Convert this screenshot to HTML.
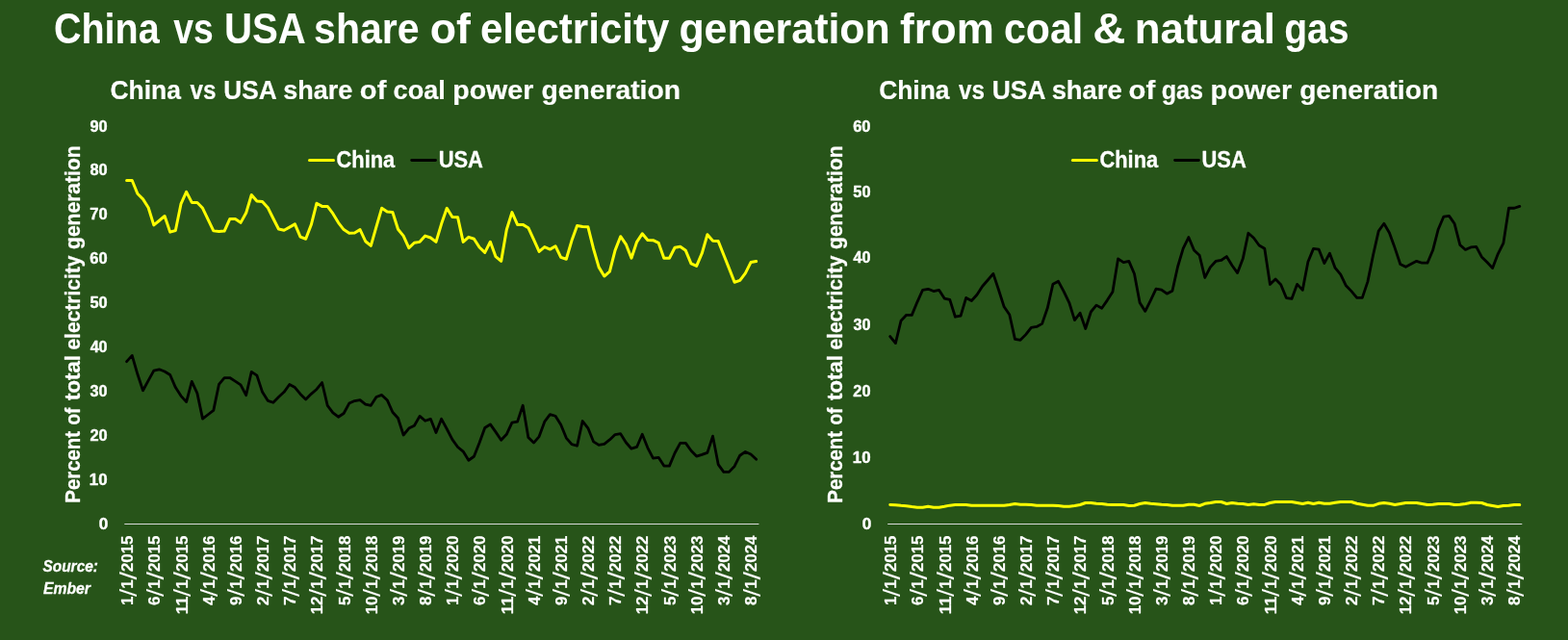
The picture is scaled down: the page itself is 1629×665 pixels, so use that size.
<!DOCTYPE html>
<html lang="en">
<head>
<meta charset="utf-8">
<title>China vs USA share of electricity generation from coal &amp; natural gas</title>
<style>
html,body{margin:0;padding:0;background:#275419;}
body{width:1629px;height:665px;overflow:hidden;}
svg{display:block;}
</style>
</head>
<body>
<svg width="1629" height="665" viewBox="0 0 1629 665" font-family='"Liberation Sans", sans-serif' font-weight="bold" fill="#fff">
<rect width="1629" height="665" fill="#275419"/>
<text y="45.40" font-size="44.0"><tspan x="55.92" textLength="109.78" lengthAdjust="spacingAndGlyphs">China</tspan> <tspan x="180.20" textLength="41.45" lengthAdjust="spacingAndGlyphs">vs</tspan> <tspan x="232.93" textLength="83.45" lengthAdjust="spacingAndGlyphs">USA</tspan> <tspan x="326.11" textLength="109.57" lengthAdjust="spacingAndGlyphs">share</tspan> <tspan x="446.74" textLength="42.17" lengthAdjust="spacingAndGlyphs">of</tspan> <tspan x="498.93" textLength="196.52" lengthAdjust="spacingAndGlyphs">electricity</tspan> <tspan x="705.38" textLength="219.43" lengthAdjust="spacingAndGlyphs">generation</tspan> <tspan x="935.04" textLength="97.76" lengthAdjust="spacingAndGlyphs">from</tspan> <tspan x="1042.96" textLength="82.23" lengthAdjust="spacingAndGlyphs">coal</tspan> <tspan x="1135.21" textLength="34.07" lengthAdjust="spacingAndGlyphs">&amp;</tspan> <tspan x="1178.85" textLength="146.12" lengthAdjust="spacingAndGlyphs">natural</tspan> <tspan x="1334.14" textLength="67.38" lengthAdjust="spacingAndGlyphs">gas</tspan></text>
<text y="102.65" font-size="27.7" stroke="#fff" stroke-width="0.2" stroke-linejoin="round"><tspan x="114.49" textLength="73.42" lengthAdjust="spacingAndGlyphs">China</tspan> <tspan x="197.40" textLength="27.03" lengthAdjust="spacingAndGlyphs">vs</tspan> <tspan x="232.25" textLength="54.52" lengthAdjust="spacingAndGlyphs">USA</tspan> <tspan x="294.25" textLength="72.09" lengthAdjust="spacingAndGlyphs">share</tspan> <tspan x="373.88" textLength="27.46" lengthAdjust="spacingAndGlyphs">of</tspan> <tspan x="408.55" textLength="54.29" lengthAdjust="spacingAndGlyphs">coal</tspan> <tspan x="470.24" textLength="84.06" lengthAdjust="spacingAndGlyphs">power</tspan> <tspan x="562.47" textLength="144.45" lengthAdjust="spacingAndGlyphs">generation</tspan></text>
<text y="102.65" font-size="27.7" stroke="#fff" stroke-width="0.2" stroke-linejoin="round"><tspan x="913.14" textLength="73.42" lengthAdjust="spacingAndGlyphs">China</tspan> <tspan x="996.10" textLength="26.98" lengthAdjust="spacingAndGlyphs">vs</tspan> <tspan x="1030.85" textLength="54.63" lengthAdjust="spacingAndGlyphs">USA</tspan> <tspan x="1092.64" textLength="73.11" lengthAdjust="spacingAndGlyphs">share</tspan> <tspan x="1172.58" textLength="27.56" lengthAdjust="spacingAndGlyphs">of</tspan> <tspan x="1206.69" textLength="43.42" lengthAdjust="spacingAndGlyphs">gas</tspan> <tspan x="1257.63" textLength="84.68" lengthAdjust="spacingAndGlyphs">power</tspan> <tspan x="1350.17" textLength="143.94" lengthAdjust="spacingAndGlyphs">generation</tspan></text>
<g id="chart1">
<rect x="129.30" y="544.00" width="659.10" height="1" fill="#d9d9d9"/>
<polyline points="131.60,187.52 137.24,187.52 142.88,201.30 148.52,206.93 154.15,215.70 159.79,233.86 165.43,229.23 171.07,224.47 176.71,241.12 182.35,239.50 187.98,211.94 193.62,199.42 199.26,210.44 204.90,210.44 210.54,216.33 216.18,228.22 221.81,239.87 227.45,240.50 233.09,240.12 238.73,227.60 244.37,227.60 250.01,231.36 255.64,221.34 261.28,202.55 266.92,209.06 272.56,209.44 278.20,215.70 283.84,226.97 289.47,237.99 295.11,239.25 300.75,236.11 306.39,232.86 312.03,246.18 317.67,248.25 323.30,233.53 328.94,211.30 334.58,214.42 340.22,214.42 345.86,221.93 351.50,231.33 357.13,238.59 362.77,242.35 368.41,241.97 374.05,238.59 379.69,250.74 385.33,255.37 390.96,235.71 396.60,216.30 402.24,220.06 407.88,220.43 413.52,238.22 419.16,245.10 424.79,257.63 430.43,252.24 436.07,251.37 441.71,245.10 447.35,246.98 452.99,251.37 458.62,232.58 464.26,216.30 469.90,225.44 475.54,225.69 481.18,251.37 486.82,246.36 492.46,248.23 498.09,256.98 503.73,262.37 509.37,251.22 515.01,266.69 520.65,271.37 526.29,238.80 531.92,220.64 537.56,233.42 543.20,233.42 548.84,236.68 554.48,248.82 560.12,261.35 565.75,256.59 571.39,259.09 577.03,255.71 582.67,267.36 588.31,269.24 593.95,250.08 599.58,234.42 605.22,235.42 610.86,235.67 616.50,258.22 622.14,277.63 627.78,287.02 633.41,282.01 639.05,260.09 644.69,245.68 650.33,253.82 655.97,268.22 661.61,251.32 667.24,242.80 672.88,249.44 678.52,249.69 684.16,252.32 689.80,268.22 695.44,268.22 701.07,257.27 706.71,256.32 712.35,260.33 717.99,273.85 723.63,276.36 729.27,263.21 734.90,243.79 740.54,250.31 746.18,250.56 751.82,264.71 757.46,278.86 763.10,293.26 768.73,291.38 774.37,283.87 780.01,272.60 785.65,271.60" fill="none" stroke="#ffff00" stroke-width="3.0" stroke-linejoin="round" stroke-linecap="round"/>
<polyline points="131.60,375.65 137.24,369.39 142.88,388.80 148.52,405.71 154.15,395.44 159.79,385.05 165.43,383.79 171.07,386.05 176.71,389.43 182.35,402.58 187.98,411.35 193.62,417.61 199.26,396.32 204.90,408.59 210.54,435.14 216.18,430.76 221.81,426.37 227.45,399.45 233.09,392.56 238.73,392.56 244.37,396.07 250.01,399.82 255.64,410.72 261.28,386.30 266.92,390.06 272.56,407.34 278.20,416.36 283.84,418.23 289.47,412.60 295.11,407.34 300.75,399.45 306.39,402.58 312.03,409.45 317.67,415.08 323.30,409.32 328.94,404.44 334.58,397.53 340.22,421.33 345.86,428.84 351.50,433.22 357.13,429.47 362.77,419.07 368.41,416.57 374.05,415.69 379.69,420.08 385.33,421.33 390.96,412.56 396.60,410.43 402.24,415.69 407.88,428.22 413.52,434.48 419.16,452.01 424.79,445.12 430.43,442.24 436.07,432.35 441.71,437.23 447.35,435.35 452.99,449.47 458.62,435.32 464.26,445.72 469.90,456.67 475.54,464.47 481.18,469.10 486.82,478.24 492.46,474.24 498.09,460.08 503.73,444.46 509.37,440.89 515.01,448.85 520.65,457.33 526.29,451.32 531.92,439.17 537.56,438.17 543.20,421.26 548.84,454.45 554.48,460.08 560.12,453.57 565.75,438.17 571.39,430.65 577.03,432.28 582.67,441.30 588.31,455.08 593.95,461.59 599.58,463.22 605.22,437.54 610.86,444.81 616.50,458.83 622.14,462.33 627.78,461.33 633.41,456.94 639.05,451.56 644.69,450.68 650.33,459.76 655.97,466.21 661.61,464.45 667.24,451.30 672.88,465.33 678.52,476.10 684.16,475.34 689.80,484.11 695.44,484.11 701.07,470.71 706.71,460.32 712.35,460.32 717.99,468.21 723.63,474.09 729.27,472.34 734.90,470.34 740.54,453.18 746.18,482.61 751.82,490.37 757.46,490.37 763.10,484.49 768.73,473.22 774.37,469.46 780.01,471.96 785.65,477.35" fill="none" stroke="#000" stroke-width="2.8" stroke-linejoin="round" stroke-linecap="round"/>
<line x1="321.50" y1="166.5" x2="346.50" y2="166.5" stroke="#ffff00" stroke-width="3.0" stroke-linecap="round"/>
<line x1="427.70" y1="166.5" x2="452.50" y2="166.5" stroke="#000" stroke-width="2.8" stroke-linecap="round"/>
<text y="173.85" font-size="23.2" stroke="#fff" stroke-width="0.3" stroke-linejoin="round"><tspan x="349.58" textLength="60.68" lengthAdjust="spacingAndGlyphs">China</tspan></text>
<text y="173.85" font-size="23.2" stroke="#fff" stroke-width="0.3" stroke-linejoin="round"><tspan x="455.63" textLength="46.30" lengthAdjust="spacingAndGlyphs">USA</tspan></text>
<text transform="rotate(-90)" y="82.55" font-size="21.2" stroke="#fff" stroke-width="0.3" stroke-linejoin="round"><tspan x="-522.67" textLength="74.69" lengthAdjust="spacingAndGlyphs">Percent</tspan> <tspan x="-441.51" textLength="17.93" lengthAdjust="spacingAndGlyphs">of</tspan> <tspan x="-415.97" textLength="46.93" lengthAdjust="spacingAndGlyphs">total</tspan> <tspan x="-363.59" textLength="98.06" lengthAdjust="spacingAndGlyphs">electricity</tspan> <tspan x="-258.99" textLength="107.62" lengthAdjust="spacingAndGlyphs">generation</tspan></text>
<text y="549.70" font-size="15.7" stroke="#fff" stroke-width="0.4" stroke-linejoin="round"><tspan x="102.75" textLength="9.57" lengthAdjust="spacingAndGlyphs">0</tspan></text>
<text y="503.82" font-size="15.7" stroke="#fff" stroke-width="0.4" stroke-linejoin="round"><tspan x="92.89" textLength="18.72" lengthAdjust="spacingAndGlyphs">10</tspan></text>
<text y="457.94" font-size="15.7" stroke="#fff" stroke-width="0.4" stroke-linejoin="round"><tspan x="93.41" textLength="18.18" lengthAdjust="spacingAndGlyphs">20</tspan></text>
<text y="412.06" font-size="15.7" stroke="#fff" stroke-width="0.4" stroke-linejoin="round"><tspan x="93.58" textLength="18.01" lengthAdjust="spacingAndGlyphs">30</tspan></text>
<text y="366.18" font-size="15.7" stroke="#fff" stroke-width="0.4" stroke-linejoin="round"><tspan x="93.66" textLength="17.92" lengthAdjust="spacingAndGlyphs">40</tspan></text>
<text y="320.30" font-size="15.7" stroke="#fff" stroke-width="0.4" stroke-linejoin="round"><tspan x="93.41" textLength="18.18" lengthAdjust="spacingAndGlyphs">50</tspan></text>
<text y="274.42" font-size="15.7" stroke="#fff" stroke-width="0.4" stroke-linejoin="round"><tspan x="93.33" textLength="18.27" lengthAdjust="spacingAndGlyphs">60</tspan></text>
<text y="227.74" font-size="15.7" stroke="#fff" stroke-width="0.4" stroke-linejoin="round"><tspan x="93.24" textLength="18.36" lengthAdjust="spacingAndGlyphs">70</tspan></text>
<text y="181.86" font-size="15.7" stroke="#fff" stroke-width="0.4" stroke-linejoin="round"><tspan x="93.41" textLength="18.18" lengthAdjust="spacingAndGlyphs">80</tspan></text>
<text y="136.78" font-size="15.7" stroke="#fff" stroke-width="0.4" stroke-linejoin="round"><tspan x="93.41" textLength="18.18" lengthAdjust="spacingAndGlyphs">90</tspan></text>
<text transform="rotate(-90)" y="138.32" font-size="17.2" stroke="#fff" stroke-width="0.2" stroke-linejoin="round"><tspan x="-628.90" dy="0" textLength="9.40" lengthAdjust="spacingAndGlyphs">1</tspan><tspan x="-620.10" dy="3.5" font-size="24.4" font-weight="normal" stroke="#275419" stroke-width="0.1" textLength="8.33" lengthAdjust="spacingAndGlyphs">/</tspan><tspan x="-611.75" dy="-3.5" textLength="9.40" lengthAdjust="spacingAndGlyphs">1</tspan><tspan x="-602.40" dy="3.5" font-size="24.4" font-weight="normal" stroke="#275419" stroke-width="0.1" textLength="8.63" lengthAdjust="spacingAndGlyphs">/</tspan><tspan x="-594.10" dy="-3.5" textLength="37.60" lengthAdjust="spacingAndGlyphs">2015</tspan></text>
<text transform="rotate(-90)" y="166.48" font-size="17.2" stroke="#fff" stroke-width="0.2" stroke-linejoin="round"><tspan x="-628.90" dy="0" textLength="9.40" lengthAdjust="spacingAndGlyphs">6</tspan><tspan x="-620.10" dy="3.5" font-size="24.4" font-weight="normal" stroke="#275419" stroke-width="0.1" textLength="8.33" lengthAdjust="spacingAndGlyphs">/</tspan><tspan x="-611.75" dy="-3.5" textLength="9.40" lengthAdjust="spacingAndGlyphs">1</tspan><tspan x="-602.40" dy="3.5" font-size="24.4" font-weight="normal" stroke="#275419" stroke-width="0.1" textLength="8.63" lengthAdjust="spacingAndGlyphs">/</tspan><tspan x="-594.10" dy="-3.5" textLength="37.60" lengthAdjust="spacingAndGlyphs">2015</tspan></text>
<text transform="rotate(-90)" y="194.65" font-size="17.2" stroke="#fff" stroke-width="0.2" stroke-linejoin="round"><tspan x="-638.30" dy="0" textLength="18.80" lengthAdjust="spacingAndGlyphs">11</tspan><tspan x="-620.10" dy="3.5" font-size="24.4" font-weight="normal" stroke="#275419" stroke-width="0.1" textLength="8.33" lengthAdjust="spacingAndGlyphs">/</tspan><tspan x="-611.75" dy="-3.5" textLength="9.40" lengthAdjust="spacingAndGlyphs">1</tspan><tspan x="-602.40" dy="3.5" font-size="24.4" font-weight="normal" stroke="#275419" stroke-width="0.1" textLength="8.63" lengthAdjust="spacingAndGlyphs">/</tspan><tspan x="-594.10" dy="-3.5" textLength="37.60" lengthAdjust="spacingAndGlyphs">2015</tspan></text>
<text transform="rotate(-90)" y="222.82" font-size="17.2" stroke="#fff" stroke-width="0.2" stroke-linejoin="round"><tspan x="-628.90" dy="0" textLength="9.40" lengthAdjust="spacingAndGlyphs">4</tspan><tspan x="-620.10" dy="3.5" font-size="24.4" font-weight="normal" stroke="#275419" stroke-width="0.1" textLength="8.33" lengthAdjust="spacingAndGlyphs">/</tspan><tspan x="-611.75" dy="-3.5" textLength="9.40" lengthAdjust="spacingAndGlyphs">1</tspan><tspan x="-602.40" dy="3.5" font-size="24.4" font-weight="normal" stroke="#275419" stroke-width="0.1" textLength="8.63" lengthAdjust="spacingAndGlyphs">/</tspan><tspan x="-594.10" dy="-3.5" textLength="37.60" lengthAdjust="spacingAndGlyphs">2016</tspan></text>
<text transform="rotate(-90)" y="250.98" font-size="17.2" stroke="#fff" stroke-width="0.2" stroke-linejoin="round"><tspan x="-628.90" dy="0" textLength="9.40" lengthAdjust="spacingAndGlyphs">9</tspan><tspan x="-620.10" dy="3.5" font-size="24.4" font-weight="normal" stroke="#275419" stroke-width="0.1" textLength="8.33" lengthAdjust="spacingAndGlyphs">/</tspan><tspan x="-611.75" dy="-3.5" textLength="9.40" lengthAdjust="spacingAndGlyphs">1</tspan><tspan x="-602.40" dy="3.5" font-size="24.4" font-weight="normal" stroke="#275419" stroke-width="0.1" textLength="8.63" lengthAdjust="spacingAndGlyphs">/</tspan><tspan x="-594.10" dy="-3.5" textLength="37.60" lengthAdjust="spacingAndGlyphs">2016</tspan></text>
<text transform="rotate(-90)" y="279.15" font-size="17.2" stroke="#fff" stroke-width="0.2" stroke-linejoin="round"><tspan x="-628.90" dy="0" textLength="9.40" lengthAdjust="spacingAndGlyphs">2</tspan><tspan x="-620.10" dy="3.5" font-size="24.4" font-weight="normal" stroke="#275419" stroke-width="0.1" textLength="8.33" lengthAdjust="spacingAndGlyphs">/</tspan><tspan x="-611.75" dy="-3.5" textLength="9.40" lengthAdjust="spacingAndGlyphs">1</tspan><tspan x="-602.40" dy="3.5" font-size="24.4" font-weight="normal" stroke="#275419" stroke-width="0.1" textLength="8.63" lengthAdjust="spacingAndGlyphs">/</tspan><tspan x="-594.10" dy="-3.5" textLength="37.60" lengthAdjust="spacingAndGlyphs">2017</tspan></text>
<text transform="rotate(-90)" y="307.32" font-size="17.2" stroke="#fff" stroke-width="0.2" stroke-linejoin="round"><tspan x="-628.90" dy="0" textLength="9.40" lengthAdjust="spacingAndGlyphs">7</tspan><tspan x="-620.10" dy="3.5" font-size="24.4" font-weight="normal" stroke="#275419" stroke-width="0.1" textLength="8.33" lengthAdjust="spacingAndGlyphs">/</tspan><tspan x="-611.75" dy="-3.5" textLength="9.40" lengthAdjust="spacingAndGlyphs">1</tspan><tspan x="-602.40" dy="3.5" font-size="24.4" font-weight="normal" stroke="#275419" stroke-width="0.1" textLength="8.63" lengthAdjust="spacingAndGlyphs">/</tspan><tspan x="-594.10" dy="-3.5" textLength="37.60" lengthAdjust="spacingAndGlyphs">2017</tspan></text>
<text transform="rotate(-90)" y="335.48" font-size="17.2" stroke="#fff" stroke-width="0.2" stroke-linejoin="round"><tspan x="-638.30" dy="0" textLength="18.80" lengthAdjust="spacingAndGlyphs">12</tspan><tspan x="-620.10" dy="3.5" font-size="24.4" font-weight="normal" stroke="#275419" stroke-width="0.1" textLength="8.33" lengthAdjust="spacingAndGlyphs">/</tspan><tspan x="-611.75" dy="-3.5" textLength="9.40" lengthAdjust="spacingAndGlyphs">1</tspan><tspan x="-602.40" dy="3.5" font-size="24.4" font-weight="normal" stroke="#275419" stroke-width="0.1" textLength="8.63" lengthAdjust="spacingAndGlyphs">/</tspan><tspan x="-594.10" dy="-3.5" textLength="37.60" lengthAdjust="spacingAndGlyphs">2017</tspan></text>
<text transform="rotate(-90)" y="363.65" font-size="17.2" stroke="#fff" stroke-width="0.2" stroke-linejoin="round"><tspan x="-628.90" dy="0" textLength="9.40" lengthAdjust="spacingAndGlyphs">5</tspan><tspan x="-620.10" dy="3.5" font-size="24.4" font-weight="normal" stroke="#275419" stroke-width="0.1" textLength="8.33" lengthAdjust="spacingAndGlyphs">/</tspan><tspan x="-611.75" dy="-3.5" textLength="9.40" lengthAdjust="spacingAndGlyphs">1</tspan><tspan x="-602.40" dy="3.5" font-size="24.4" font-weight="normal" stroke="#275419" stroke-width="0.1" textLength="8.63" lengthAdjust="spacingAndGlyphs">/</tspan><tspan x="-594.10" dy="-3.5" textLength="37.60" lengthAdjust="spacingAndGlyphs">2018</tspan></text>
<text transform="rotate(-90)" y="391.82" font-size="17.2" stroke="#fff" stroke-width="0.2" stroke-linejoin="round"><tspan x="-638.30" dy="0" textLength="18.80" lengthAdjust="spacingAndGlyphs">10</tspan><tspan x="-620.10" dy="3.5" font-size="24.4" font-weight="normal" stroke="#275419" stroke-width="0.1" textLength="8.33" lengthAdjust="spacingAndGlyphs">/</tspan><tspan x="-611.75" dy="-3.5" textLength="9.40" lengthAdjust="spacingAndGlyphs">1</tspan><tspan x="-602.40" dy="3.5" font-size="24.4" font-weight="normal" stroke="#275419" stroke-width="0.1" textLength="8.63" lengthAdjust="spacingAndGlyphs">/</tspan><tspan x="-594.10" dy="-3.5" textLength="37.60" lengthAdjust="spacingAndGlyphs">2018</tspan></text>
<text transform="rotate(-90)" y="419.98" font-size="17.2" stroke="#fff" stroke-width="0.2" stroke-linejoin="round"><tspan x="-628.90" dy="0" textLength="9.40" lengthAdjust="spacingAndGlyphs">3</tspan><tspan x="-620.10" dy="3.5" font-size="24.4" font-weight="normal" stroke="#275419" stroke-width="0.1" textLength="8.33" lengthAdjust="spacingAndGlyphs">/</tspan><tspan x="-611.75" dy="-3.5" textLength="9.40" lengthAdjust="spacingAndGlyphs">1</tspan><tspan x="-602.40" dy="3.5" font-size="24.4" font-weight="normal" stroke="#275419" stroke-width="0.1" textLength="8.63" lengthAdjust="spacingAndGlyphs">/</tspan><tspan x="-594.10" dy="-3.5" textLength="37.60" lengthAdjust="spacingAndGlyphs">2019</tspan></text>
<text transform="rotate(-90)" y="448.15" font-size="17.2" stroke="#fff" stroke-width="0.2" stroke-linejoin="round"><tspan x="-628.90" dy="0" textLength="9.40" lengthAdjust="spacingAndGlyphs">8</tspan><tspan x="-620.10" dy="3.5" font-size="24.4" font-weight="normal" stroke="#275419" stroke-width="0.1" textLength="8.33" lengthAdjust="spacingAndGlyphs">/</tspan><tspan x="-611.75" dy="-3.5" textLength="9.40" lengthAdjust="spacingAndGlyphs">1</tspan><tspan x="-602.40" dy="3.5" font-size="24.4" font-weight="normal" stroke="#275419" stroke-width="0.1" textLength="8.63" lengthAdjust="spacingAndGlyphs">/</tspan><tspan x="-594.10" dy="-3.5" textLength="37.60" lengthAdjust="spacingAndGlyphs">2019</tspan></text>
<text transform="rotate(-90)" y="476.32" font-size="17.2" stroke="#fff" stroke-width="0.2" stroke-linejoin="round"><tspan x="-628.90" dy="0" textLength="9.40" lengthAdjust="spacingAndGlyphs">1</tspan><tspan x="-620.10" dy="3.5" font-size="24.4" font-weight="normal" stroke="#275419" stroke-width="0.1" textLength="8.33" lengthAdjust="spacingAndGlyphs">/</tspan><tspan x="-611.75" dy="-3.5" textLength="9.40" lengthAdjust="spacingAndGlyphs">1</tspan><tspan x="-602.40" dy="3.5" font-size="24.4" font-weight="normal" stroke="#275419" stroke-width="0.1" textLength="8.63" lengthAdjust="spacingAndGlyphs">/</tspan><tspan x="-594.10" dy="-3.5" textLength="37.60" lengthAdjust="spacingAndGlyphs">2020</tspan></text>
<text transform="rotate(-90)" y="504.48" font-size="17.2" stroke="#fff" stroke-width="0.2" stroke-linejoin="round"><tspan x="-628.90" dy="0" textLength="9.40" lengthAdjust="spacingAndGlyphs">6</tspan><tspan x="-620.10" dy="3.5" font-size="24.4" font-weight="normal" stroke="#275419" stroke-width="0.1" textLength="8.33" lengthAdjust="spacingAndGlyphs">/</tspan><tspan x="-611.75" dy="-3.5" textLength="9.40" lengthAdjust="spacingAndGlyphs">1</tspan><tspan x="-602.40" dy="3.5" font-size="24.4" font-weight="normal" stroke="#275419" stroke-width="0.1" textLength="8.63" lengthAdjust="spacingAndGlyphs">/</tspan><tspan x="-594.10" dy="-3.5" textLength="37.60" lengthAdjust="spacingAndGlyphs">2020</tspan></text>
<text transform="rotate(-90)" y="532.65" font-size="17.2" stroke="#fff" stroke-width="0.2" stroke-linejoin="round"><tspan x="-638.30" dy="0" textLength="18.80" lengthAdjust="spacingAndGlyphs">11</tspan><tspan x="-620.10" dy="3.5" font-size="24.4" font-weight="normal" stroke="#275419" stroke-width="0.1" textLength="8.33" lengthAdjust="spacingAndGlyphs">/</tspan><tspan x="-611.75" dy="-3.5" textLength="9.40" lengthAdjust="spacingAndGlyphs">1</tspan><tspan x="-602.40" dy="3.5" font-size="24.4" font-weight="normal" stroke="#275419" stroke-width="0.1" textLength="8.63" lengthAdjust="spacingAndGlyphs">/</tspan><tspan x="-594.10" dy="-3.5" textLength="37.60" lengthAdjust="spacingAndGlyphs">2020</tspan></text>
<text transform="rotate(-90)" y="560.82" font-size="17.2" stroke="#fff" stroke-width="0.2" stroke-linejoin="round"><tspan x="-628.90" dy="0" textLength="9.40" lengthAdjust="spacingAndGlyphs">4</tspan><tspan x="-620.10" dy="3.5" font-size="24.4" font-weight="normal" stroke="#275419" stroke-width="0.1" textLength="8.33" lengthAdjust="spacingAndGlyphs">/</tspan><tspan x="-611.75" dy="-3.5" textLength="9.40" lengthAdjust="spacingAndGlyphs">1</tspan><tspan x="-602.40" dy="3.5" font-size="24.4" font-weight="normal" stroke="#275419" stroke-width="0.1" textLength="8.63" lengthAdjust="spacingAndGlyphs">/</tspan><tspan x="-594.10" dy="-3.5" textLength="37.60" lengthAdjust="spacingAndGlyphs">2021</tspan></text>
<text transform="rotate(-90)" y="588.98" font-size="17.2" stroke="#fff" stroke-width="0.2" stroke-linejoin="round"><tspan x="-628.90" dy="0" textLength="9.40" lengthAdjust="spacingAndGlyphs">9</tspan><tspan x="-620.10" dy="3.5" font-size="24.4" font-weight="normal" stroke="#275419" stroke-width="0.1" textLength="8.33" lengthAdjust="spacingAndGlyphs">/</tspan><tspan x="-611.75" dy="-3.5" textLength="9.40" lengthAdjust="spacingAndGlyphs">1</tspan><tspan x="-602.40" dy="3.5" font-size="24.4" font-weight="normal" stroke="#275419" stroke-width="0.1" textLength="8.63" lengthAdjust="spacingAndGlyphs">/</tspan><tspan x="-594.10" dy="-3.5" textLength="37.60" lengthAdjust="spacingAndGlyphs">2021</tspan></text>
<text transform="rotate(-90)" y="617.15" font-size="17.2" stroke="#fff" stroke-width="0.2" stroke-linejoin="round"><tspan x="-628.90" dy="0" textLength="9.40" lengthAdjust="spacingAndGlyphs">2</tspan><tspan x="-620.10" dy="3.5" font-size="24.4" font-weight="normal" stroke="#275419" stroke-width="0.1" textLength="8.33" lengthAdjust="spacingAndGlyphs">/</tspan><tspan x="-611.75" dy="-3.5" textLength="9.40" lengthAdjust="spacingAndGlyphs">1</tspan><tspan x="-602.40" dy="3.5" font-size="24.4" font-weight="normal" stroke="#275419" stroke-width="0.1" textLength="8.63" lengthAdjust="spacingAndGlyphs">/</tspan><tspan x="-594.10" dy="-3.5" textLength="37.60" lengthAdjust="spacingAndGlyphs">2022</tspan></text>
<text transform="rotate(-90)" y="645.32" font-size="17.2" stroke="#fff" stroke-width="0.2" stroke-linejoin="round"><tspan x="-628.90" dy="0" textLength="9.40" lengthAdjust="spacingAndGlyphs">7</tspan><tspan x="-620.10" dy="3.5" font-size="24.4" font-weight="normal" stroke="#275419" stroke-width="0.1" textLength="8.33" lengthAdjust="spacingAndGlyphs">/</tspan><tspan x="-611.75" dy="-3.5" textLength="9.40" lengthAdjust="spacingAndGlyphs">1</tspan><tspan x="-602.40" dy="3.5" font-size="24.4" font-weight="normal" stroke="#275419" stroke-width="0.1" textLength="8.63" lengthAdjust="spacingAndGlyphs">/</tspan><tspan x="-594.10" dy="-3.5" textLength="37.60" lengthAdjust="spacingAndGlyphs">2022</tspan></text>
<text transform="rotate(-90)" y="673.48" font-size="17.2" stroke="#fff" stroke-width="0.2" stroke-linejoin="round"><tspan x="-638.30" dy="0" textLength="18.80" lengthAdjust="spacingAndGlyphs">12</tspan><tspan x="-620.10" dy="3.5" font-size="24.4" font-weight="normal" stroke="#275419" stroke-width="0.1" textLength="8.33" lengthAdjust="spacingAndGlyphs">/</tspan><tspan x="-611.75" dy="-3.5" textLength="9.40" lengthAdjust="spacingAndGlyphs">1</tspan><tspan x="-602.40" dy="3.5" font-size="24.4" font-weight="normal" stroke="#275419" stroke-width="0.1" textLength="8.63" lengthAdjust="spacingAndGlyphs">/</tspan><tspan x="-594.10" dy="-3.5" textLength="37.60" lengthAdjust="spacingAndGlyphs">2022</tspan></text>
<text transform="rotate(-90)" y="701.65" font-size="17.2" stroke="#fff" stroke-width="0.2" stroke-linejoin="round"><tspan x="-628.90" dy="0" textLength="9.40" lengthAdjust="spacingAndGlyphs">5</tspan><tspan x="-620.10" dy="3.5" font-size="24.4" font-weight="normal" stroke="#275419" stroke-width="0.1" textLength="8.33" lengthAdjust="spacingAndGlyphs">/</tspan><tspan x="-611.75" dy="-3.5" textLength="9.40" lengthAdjust="spacingAndGlyphs">1</tspan><tspan x="-602.40" dy="3.5" font-size="24.4" font-weight="normal" stroke="#275419" stroke-width="0.1" textLength="8.63" lengthAdjust="spacingAndGlyphs">/</tspan><tspan x="-594.10" dy="-3.5" textLength="37.60" lengthAdjust="spacingAndGlyphs">2023</tspan></text>
<text transform="rotate(-90)" y="729.82" font-size="17.2" stroke="#fff" stroke-width="0.2" stroke-linejoin="round"><tspan x="-638.30" dy="0" textLength="18.80" lengthAdjust="spacingAndGlyphs">10</tspan><tspan x="-620.10" dy="3.5" font-size="24.4" font-weight="normal" stroke="#275419" stroke-width="0.1" textLength="8.33" lengthAdjust="spacingAndGlyphs">/</tspan><tspan x="-611.75" dy="-3.5" textLength="9.40" lengthAdjust="spacingAndGlyphs">1</tspan><tspan x="-602.40" dy="3.5" font-size="24.4" font-weight="normal" stroke="#275419" stroke-width="0.1" textLength="8.63" lengthAdjust="spacingAndGlyphs">/</tspan><tspan x="-594.10" dy="-3.5" textLength="37.60" lengthAdjust="spacingAndGlyphs">2023</tspan></text>
<text transform="rotate(-90)" y="757.98" font-size="17.2" stroke="#fff" stroke-width="0.2" stroke-linejoin="round"><tspan x="-628.90" dy="0" textLength="9.40" lengthAdjust="spacingAndGlyphs">3</tspan><tspan x="-620.10" dy="3.5" font-size="24.4" font-weight="normal" stroke="#275419" stroke-width="0.1" textLength="8.33" lengthAdjust="spacingAndGlyphs">/</tspan><tspan x="-611.75" dy="-3.5" textLength="9.40" lengthAdjust="spacingAndGlyphs">1</tspan><tspan x="-602.40" dy="3.5" font-size="24.4" font-weight="normal" stroke="#275419" stroke-width="0.1" textLength="8.63" lengthAdjust="spacingAndGlyphs">/</tspan><tspan x="-594.10" dy="-3.5" textLength="37.60" lengthAdjust="spacingAndGlyphs">2024</tspan></text>
<text transform="rotate(-90)" y="786.15" font-size="17.2" stroke="#fff" stroke-width="0.2" stroke-linejoin="round"><tspan x="-628.90" dy="0" textLength="9.40" lengthAdjust="spacingAndGlyphs">8</tspan><tspan x="-620.10" dy="3.5" font-size="24.4" font-weight="normal" stroke="#275419" stroke-width="0.1" textLength="8.33" lengthAdjust="spacingAndGlyphs">/</tspan><tspan x="-611.75" dy="-3.5" textLength="9.40" lengthAdjust="spacingAndGlyphs">1</tspan><tspan x="-602.40" dy="3.5" font-size="24.4" font-weight="normal" stroke="#275419" stroke-width="0.1" textLength="8.63" lengthAdjust="spacingAndGlyphs">/</tspan><tspan x="-594.10" dy="-3.5" textLength="37.60" lengthAdjust="spacingAndGlyphs">2024</tspan></text>
</g>
<g id="chart2">
<rect x="922.20" y="544.00" width="659.10" height="1" fill="#d9d9d9"/>
<polyline points="924.75,524.55 930.39,524.70 936.03,525.30 941.67,525.68 947.30,526.58 952.94,527.33 958.58,527.18 964.22,526.28 969.86,527.33 975.50,527.18 981.13,526.28 986.77,525.15 992.41,524.55 998.05,524.55 1003.69,524.42 1009.33,525.33 1014.96,525.33 1020.60,525.20 1026.24,525.20 1031.88,525.20 1037.52,525.20 1043.16,525.20 1048.79,524.50 1054.43,523.50 1060.07,524.20 1065.71,524.30 1071.35,524.50 1076.99,525.20 1082.62,525.20 1088.26,525.20 1093.90,525.20 1099.54,525.50 1105.18,526.20 1110.82,526.20 1116.45,525.50 1122.09,524.50 1127.73,522.50 1133.37,522.50 1139.01,523.20 1144.65,523.50 1150.28,524.30 1155.92,524.40 1161.56,524.40 1167.20,524.50 1172.84,525.50 1178.48,525.30 1184.11,523.50 1189.75,522.50 1195.39,523.30 1201.03,523.70 1206.67,524.30 1212.31,524.50 1217.94,525.30 1223.58,525.30 1229.22,525.30 1234.86,524.30 1240.50,524.30 1246.14,525.50 1251.78,523.30 1257.41,522.50 1263.05,521.50 1268.69,521.50 1274.33,523.50 1279.97,522.50 1285.61,523.30 1291.24,523.50 1296.88,524.50 1302.52,523.70 1308.16,524.40 1313.80,524.40 1319.44,522.50 1325.07,521.50 1330.71,521.50 1336.35,521.50 1341.99,521.50 1347.63,522.50 1353.27,523.50 1358.90,522.30 1364.54,523.50 1370.18,522.30 1375.82,523.30 1381.46,523.30 1387.10,522.30 1392.73,521.50 1398.37,521.50 1404.01,521.50 1409.65,523.30 1415.29,524.30 1420.93,525.30 1426.56,525.30 1432.20,523.30 1437.84,522.50 1443.48,523.30 1449.12,524.50 1454.76,523.50 1460.39,522.50 1466.03,522.40 1471.67,522.50 1477.31,523.50 1482.95,524.50 1488.59,524.30 1494.22,523.50 1499.86,523.50 1505.50,523.50 1511.14,524.50 1516.78,524.30 1522.42,523.50 1528.05,522.30 1533.69,522.30 1539.33,522.50 1544.97,524.50 1550.61,525.50 1556.25,526.50 1561.88,525.50 1567.52,525.30 1573.16,524.50 1578.80,524.50" fill="none" stroke="#ffff00" stroke-width="3.0" stroke-linejoin="round" stroke-linecap="round"/>
<polyline points="924.75,349.51 930.39,356.64 936.03,333.22 941.67,327.34 947.30,327.34 952.94,313.81 958.58,301.29 964.22,300.29 969.86,302.54 975.50,301.29 981.13,310.06 986.77,311.31 992.41,329.22 998.05,328.22 1003.69,309.43 1009.33,312.56 1014.96,306.30 1020.60,297.53 1026.24,291.02 1031.88,284.38 1037.52,301.29 1043.16,318.82 1048.79,326.96 1054.43,352.39 1060.07,353.26 1065.71,347.63 1071.35,340.36 1076.99,339.49 1082.62,336.36 1088.26,320.08 1093.90,295.28 1099.54,292.29 1105.18,302.93 1110.82,314.52 1116.45,332.68 1122.09,325.24 1127.73,341.52 1133.37,323.99 1139.01,317.10 1144.65,320.23 1150.28,312.09 1155.92,303.33 1161.56,268.89 1167.20,272.64 1172.84,271.39 1178.48,284.54 1184.11,314.60 1189.75,323.37 1195.39,312.09 1201.03,300.20 1206.67,301.07 1212.31,305.17 1217.94,302.23 1223.58,276.99 1229.22,258.17 1234.86,246.52 1240.50,260.05 1246.14,265.22 1251.78,288.45 1257.41,277.62 1263.05,271.48 1268.69,270.48 1274.33,266.53 1279.97,275.74 1285.61,283.57 1291.24,268.85 1296.88,242.26 1302.52,247.27 1308.16,255.04 1313.80,258.17 1319.44,295.49 1325.07,290.10 1330.71,295.74 1336.35,309.51 1341.99,310.39 1347.63,295.36 1353.27,301.37 1358.90,271.94 1364.54,258.35 1370.18,259.23 1375.82,273.57 1381.46,263.17 1387.10,278.39 1392.73,285.21 1398.37,296.80 1404.01,302.62 1409.65,309.38 1415.29,309.38 1420.93,292.60 1426.56,265.08 1432.20,240.07 1437.84,232.30 1443.48,241.94 1449.12,257.60 1454.76,274.47 1460.39,277.35 1466.03,274.16 1471.67,271.34 1477.31,273.22 1482.95,273.22 1488.59,260.07 1494.22,238.19 1499.86,225.04 1505.50,224.41 1511.14,232.55 1516.78,254.43 1522.42,259.44 1528.05,256.94 1533.69,256.31 1539.33,266.96 1544.97,272.47 1550.61,278.61 1556.25,263.86 1561.88,252.59 1567.52,216.27 1573.16,216.27 1578.80,214.39" fill="none" stroke="#000" stroke-width="2.8" stroke-linejoin="round" stroke-linecap="round"/>
<line x1="1114.40" y1="166.5" x2="1139.40" y2="166.5" stroke="#ffff00" stroke-width="3.0" stroke-linecap="round"/>
<line x1="1220.60" y1="166.5" x2="1245.40" y2="166.5" stroke="#000" stroke-width="2.8" stroke-linecap="round"/>
<text y="173.85" font-size="23.2" stroke="#fff" stroke-width="0.3" stroke-linejoin="round"><tspan x="1142.48" textLength="60.68" lengthAdjust="spacingAndGlyphs">China</tspan></text>
<text y="173.85" font-size="23.2" stroke="#fff" stroke-width="0.3" stroke-linejoin="round"><tspan x="1248.53" textLength="46.30" lengthAdjust="spacingAndGlyphs">USA</tspan></text>
<text transform="rotate(-90)" y="875.45" font-size="21.2" stroke="#fff" stroke-width="0.3" stroke-linejoin="round"><tspan x="-522.67" textLength="74.69" lengthAdjust="spacingAndGlyphs">Percent</tspan> <tspan x="-441.51" textLength="17.93" lengthAdjust="spacingAndGlyphs">of</tspan> <tspan x="-415.97" textLength="46.93" lengthAdjust="spacingAndGlyphs">total</tspan> <tspan x="-363.59" textLength="98.06" lengthAdjust="spacingAndGlyphs">electricity</tspan> <tspan x="-258.99" textLength="107.62" lengthAdjust="spacingAndGlyphs">generation</tspan></text>
<text y="549.70" font-size="15.7" stroke="#fff" stroke-width="0.4" stroke-linejoin="round"><tspan x="895.65" textLength="9.57" lengthAdjust="spacingAndGlyphs">0</tspan></text>
<text y="480.90" font-size="15.7" stroke="#fff" stroke-width="0.4" stroke-linejoin="round"><tspan x="885.79" textLength="18.72" lengthAdjust="spacingAndGlyphs">10</tspan></text>
<text y="412.10" font-size="15.7" stroke="#fff" stroke-width="0.4" stroke-linejoin="round"><tspan x="886.31" textLength="18.18" lengthAdjust="spacingAndGlyphs">20</tspan></text>
<text y="343.30" font-size="15.7" stroke="#fff" stroke-width="0.4" stroke-linejoin="round"><tspan x="886.48" textLength="18.01" lengthAdjust="spacingAndGlyphs">30</tspan></text>
<text y="273.40" font-size="15.7" stroke="#fff" stroke-width="0.4" stroke-linejoin="round"><tspan x="886.56" textLength="17.92" lengthAdjust="spacingAndGlyphs">40</tspan></text>
<text y="204.90" font-size="15.7" stroke="#fff" stroke-width="0.4" stroke-linejoin="round"><tspan x="886.31" textLength="18.18" lengthAdjust="spacingAndGlyphs">50</tspan></text>
<text y="137.30" font-size="15.7" stroke="#fff" stroke-width="0.4" stroke-linejoin="round"><tspan x="886.23" textLength="18.27" lengthAdjust="spacingAndGlyphs">60</tspan></text>
<text transform="rotate(-90)" y="931.22" font-size="17.2" stroke="#fff" stroke-width="0.2" stroke-linejoin="round"><tspan x="-628.90" dy="0" textLength="9.40" lengthAdjust="spacingAndGlyphs">1</tspan><tspan x="-620.10" dy="3.5" font-size="24.4" font-weight="normal" stroke="#275419" stroke-width="0.1" textLength="8.33" lengthAdjust="spacingAndGlyphs">/</tspan><tspan x="-611.75" dy="-3.5" textLength="9.40" lengthAdjust="spacingAndGlyphs">1</tspan><tspan x="-602.40" dy="3.5" font-size="24.4" font-weight="normal" stroke="#275419" stroke-width="0.1" textLength="8.63" lengthAdjust="spacingAndGlyphs">/</tspan><tspan x="-594.10" dy="-3.5" textLength="37.60" lengthAdjust="spacingAndGlyphs">2015</tspan></text>
<text transform="rotate(-90)" y="959.38" font-size="17.2" stroke="#fff" stroke-width="0.2" stroke-linejoin="round"><tspan x="-628.90" dy="0" textLength="9.40" lengthAdjust="spacingAndGlyphs">6</tspan><tspan x="-620.10" dy="3.5" font-size="24.4" font-weight="normal" stroke="#275419" stroke-width="0.1" textLength="8.33" lengthAdjust="spacingAndGlyphs">/</tspan><tspan x="-611.75" dy="-3.5" textLength="9.40" lengthAdjust="spacingAndGlyphs">1</tspan><tspan x="-602.40" dy="3.5" font-size="24.4" font-weight="normal" stroke="#275419" stroke-width="0.1" textLength="8.63" lengthAdjust="spacingAndGlyphs">/</tspan><tspan x="-594.10" dy="-3.5" textLength="37.60" lengthAdjust="spacingAndGlyphs">2015</tspan></text>
<text transform="rotate(-90)" y="987.55" font-size="17.2" stroke="#fff" stroke-width="0.2" stroke-linejoin="round"><tspan x="-638.30" dy="0" textLength="18.80" lengthAdjust="spacingAndGlyphs">11</tspan><tspan x="-620.10" dy="3.5" font-size="24.4" font-weight="normal" stroke="#275419" stroke-width="0.1" textLength="8.33" lengthAdjust="spacingAndGlyphs">/</tspan><tspan x="-611.75" dy="-3.5" textLength="9.40" lengthAdjust="spacingAndGlyphs">1</tspan><tspan x="-602.40" dy="3.5" font-size="24.4" font-weight="normal" stroke="#275419" stroke-width="0.1" textLength="8.63" lengthAdjust="spacingAndGlyphs">/</tspan><tspan x="-594.10" dy="-3.5" textLength="37.60" lengthAdjust="spacingAndGlyphs">2015</tspan></text>
<text transform="rotate(-90)" y="1015.72" font-size="17.2" stroke="#fff" stroke-width="0.2" stroke-linejoin="round"><tspan x="-628.90" dy="0" textLength="9.40" lengthAdjust="spacingAndGlyphs">4</tspan><tspan x="-620.10" dy="3.5" font-size="24.4" font-weight="normal" stroke="#275419" stroke-width="0.1" textLength="8.33" lengthAdjust="spacingAndGlyphs">/</tspan><tspan x="-611.75" dy="-3.5" textLength="9.40" lengthAdjust="spacingAndGlyphs">1</tspan><tspan x="-602.40" dy="3.5" font-size="24.4" font-weight="normal" stroke="#275419" stroke-width="0.1" textLength="8.63" lengthAdjust="spacingAndGlyphs">/</tspan><tspan x="-594.10" dy="-3.5" textLength="37.60" lengthAdjust="spacingAndGlyphs">2016</tspan></text>
<text transform="rotate(-90)" y="1043.88" font-size="17.2" stroke="#fff" stroke-width="0.2" stroke-linejoin="round"><tspan x="-628.90" dy="0" textLength="9.40" lengthAdjust="spacingAndGlyphs">9</tspan><tspan x="-620.10" dy="3.5" font-size="24.4" font-weight="normal" stroke="#275419" stroke-width="0.1" textLength="8.33" lengthAdjust="spacingAndGlyphs">/</tspan><tspan x="-611.75" dy="-3.5" textLength="9.40" lengthAdjust="spacingAndGlyphs">1</tspan><tspan x="-602.40" dy="3.5" font-size="24.4" font-weight="normal" stroke="#275419" stroke-width="0.1" textLength="8.63" lengthAdjust="spacingAndGlyphs">/</tspan><tspan x="-594.10" dy="-3.5" textLength="37.60" lengthAdjust="spacingAndGlyphs">2016</tspan></text>
<text transform="rotate(-90)" y="1072.05" font-size="17.2" stroke="#fff" stroke-width="0.2" stroke-linejoin="round"><tspan x="-628.90" dy="0" textLength="9.40" lengthAdjust="spacingAndGlyphs">2</tspan><tspan x="-620.10" dy="3.5" font-size="24.4" font-weight="normal" stroke="#275419" stroke-width="0.1" textLength="8.33" lengthAdjust="spacingAndGlyphs">/</tspan><tspan x="-611.75" dy="-3.5" textLength="9.40" lengthAdjust="spacingAndGlyphs">1</tspan><tspan x="-602.40" dy="3.5" font-size="24.4" font-weight="normal" stroke="#275419" stroke-width="0.1" textLength="8.63" lengthAdjust="spacingAndGlyphs">/</tspan><tspan x="-594.10" dy="-3.5" textLength="37.60" lengthAdjust="spacingAndGlyphs">2017</tspan></text>
<text transform="rotate(-90)" y="1100.22" font-size="17.2" stroke="#fff" stroke-width="0.2" stroke-linejoin="round"><tspan x="-628.90" dy="0" textLength="9.40" lengthAdjust="spacingAndGlyphs">7</tspan><tspan x="-620.10" dy="3.5" font-size="24.4" font-weight="normal" stroke="#275419" stroke-width="0.1" textLength="8.33" lengthAdjust="spacingAndGlyphs">/</tspan><tspan x="-611.75" dy="-3.5" textLength="9.40" lengthAdjust="spacingAndGlyphs">1</tspan><tspan x="-602.40" dy="3.5" font-size="24.4" font-weight="normal" stroke="#275419" stroke-width="0.1" textLength="8.63" lengthAdjust="spacingAndGlyphs">/</tspan><tspan x="-594.10" dy="-3.5" textLength="37.60" lengthAdjust="spacingAndGlyphs">2017</tspan></text>
<text transform="rotate(-90)" y="1128.38" font-size="17.2" stroke="#fff" stroke-width="0.2" stroke-linejoin="round"><tspan x="-638.30" dy="0" textLength="18.80" lengthAdjust="spacingAndGlyphs">12</tspan><tspan x="-620.10" dy="3.5" font-size="24.4" font-weight="normal" stroke="#275419" stroke-width="0.1" textLength="8.33" lengthAdjust="spacingAndGlyphs">/</tspan><tspan x="-611.75" dy="-3.5" textLength="9.40" lengthAdjust="spacingAndGlyphs">1</tspan><tspan x="-602.40" dy="3.5" font-size="24.4" font-weight="normal" stroke="#275419" stroke-width="0.1" textLength="8.63" lengthAdjust="spacingAndGlyphs">/</tspan><tspan x="-594.10" dy="-3.5" textLength="37.60" lengthAdjust="spacingAndGlyphs">2017</tspan></text>
<text transform="rotate(-90)" y="1156.55" font-size="17.2" stroke="#fff" stroke-width="0.2" stroke-linejoin="round"><tspan x="-628.90" dy="0" textLength="9.40" lengthAdjust="spacingAndGlyphs">5</tspan><tspan x="-620.10" dy="3.5" font-size="24.4" font-weight="normal" stroke="#275419" stroke-width="0.1" textLength="8.33" lengthAdjust="spacingAndGlyphs">/</tspan><tspan x="-611.75" dy="-3.5" textLength="9.40" lengthAdjust="spacingAndGlyphs">1</tspan><tspan x="-602.40" dy="3.5" font-size="24.4" font-weight="normal" stroke="#275419" stroke-width="0.1" textLength="8.63" lengthAdjust="spacingAndGlyphs">/</tspan><tspan x="-594.10" dy="-3.5" textLength="37.60" lengthAdjust="spacingAndGlyphs">2018</tspan></text>
<text transform="rotate(-90)" y="1184.72" font-size="17.2" stroke="#fff" stroke-width="0.2" stroke-linejoin="round"><tspan x="-638.30" dy="0" textLength="18.80" lengthAdjust="spacingAndGlyphs">10</tspan><tspan x="-620.10" dy="3.5" font-size="24.4" font-weight="normal" stroke="#275419" stroke-width="0.1" textLength="8.33" lengthAdjust="spacingAndGlyphs">/</tspan><tspan x="-611.75" dy="-3.5" textLength="9.40" lengthAdjust="spacingAndGlyphs">1</tspan><tspan x="-602.40" dy="3.5" font-size="24.4" font-weight="normal" stroke="#275419" stroke-width="0.1" textLength="8.63" lengthAdjust="spacingAndGlyphs">/</tspan><tspan x="-594.10" dy="-3.5" textLength="37.60" lengthAdjust="spacingAndGlyphs">2018</tspan></text>
<text transform="rotate(-90)" y="1212.88" font-size="17.2" stroke="#fff" stroke-width="0.2" stroke-linejoin="round"><tspan x="-628.90" dy="0" textLength="9.40" lengthAdjust="spacingAndGlyphs">3</tspan><tspan x="-620.10" dy="3.5" font-size="24.4" font-weight="normal" stroke="#275419" stroke-width="0.1" textLength="8.33" lengthAdjust="spacingAndGlyphs">/</tspan><tspan x="-611.75" dy="-3.5" textLength="9.40" lengthAdjust="spacingAndGlyphs">1</tspan><tspan x="-602.40" dy="3.5" font-size="24.4" font-weight="normal" stroke="#275419" stroke-width="0.1" textLength="8.63" lengthAdjust="spacingAndGlyphs">/</tspan><tspan x="-594.10" dy="-3.5" textLength="37.60" lengthAdjust="spacingAndGlyphs">2019</tspan></text>
<text transform="rotate(-90)" y="1241.05" font-size="17.2" stroke="#fff" stroke-width="0.2" stroke-linejoin="round"><tspan x="-628.90" dy="0" textLength="9.40" lengthAdjust="spacingAndGlyphs">8</tspan><tspan x="-620.10" dy="3.5" font-size="24.4" font-weight="normal" stroke="#275419" stroke-width="0.1" textLength="8.33" lengthAdjust="spacingAndGlyphs">/</tspan><tspan x="-611.75" dy="-3.5" textLength="9.40" lengthAdjust="spacingAndGlyphs">1</tspan><tspan x="-602.40" dy="3.5" font-size="24.4" font-weight="normal" stroke="#275419" stroke-width="0.1" textLength="8.63" lengthAdjust="spacingAndGlyphs">/</tspan><tspan x="-594.10" dy="-3.5" textLength="37.60" lengthAdjust="spacingAndGlyphs">2019</tspan></text>
<text transform="rotate(-90)" y="1269.22" font-size="17.2" stroke="#fff" stroke-width="0.2" stroke-linejoin="round"><tspan x="-628.90" dy="0" textLength="9.40" lengthAdjust="spacingAndGlyphs">1</tspan><tspan x="-620.10" dy="3.5" font-size="24.4" font-weight="normal" stroke="#275419" stroke-width="0.1" textLength="8.33" lengthAdjust="spacingAndGlyphs">/</tspan><tspan x="-611.75" dy="-3.5" textLength="9.40" lengthAdjust="spacingAndGlyphs">1</tspan><tspan x="-602.40" dy="3.5" font-size="24.4" font-weight="normal" stroke="#275419" stroke-width="0.1" textLength="8.63" lengthAdjust="spacingAndGlyphs">/</tspan><tspan x="-594.10" dy="-3.5" textLength="37.60" lengthAdjust="spacingAndGlyphs">2020</tspan></text>
<text transform="rotate(-90)" y="1297.38" font-size="17.2" stroke="#fff" stroke-width="0.2" stroke-linejoin="round"><tspan x="-628.90" dy="0" textLength="9.40" lengthAdjust="spacingAndGlyphs">6</tspan><tspan x="-620.10" dy="3.5" font-size="24.4" font-weight="normal" stroke="#275419" stroke-width="0.1" textLength="8.33" lengthAdjust="spacingAndGlyphs">/</tspan><tspan x="-611.75" dy="-3.5" textLength="9.40" lengthAdjust="spacingAndGlyphs">1</tspan><tspan x="-602.40" dy="3.5" font-size="24.4" font-weight="normal" stroke="#275419" stroke-width="0.1" textLength="8.63" lengthAdjust="spacingAndGlyphs">/</tspan><tspan x="-594.10" dy="-3.5" textLength="37.60" lengthAdjust="spacingAndGlyphs">2020</tspan></text>
<text transform="rotate(-90)" y="1325.55" font-size="17.2" stroke="#fff" stroke-width="0.2" stroke-linejoin="round"><tspan x="-638.30" dy="0" textLength="18.80" lengthAdjust="spacingAndGlyphs">11</tspan><tspan x="-620.10" dy="3.5" font-size="24.4" font-weight="normal" stroke="#275419" stroke-width="0.1" textLength="8.33" lengthAdjust="spacingAndGlyphs">/</tspan><tspan x="-611.75" dy="-3.5" textLength="9.40" lengthAdjust="spacingAndGlyphs">1</tspan><tspan x="-602.40" dy="3.5" font-size="24.4" font-weight="normal" stroke="#275419" stroke-width="0.1" textLength="8.63" lengthAdjust="spacingAndGlyphs">/</tspan><tspan x="-594.10" dy="-3.5" textLength="37.60" lengthAdjust="spacingAndGlyphs">2020</tspan></text>
<text transform="rotate(-90)" y="1353.72" font-size="17.2" stroke="#fff" stroke-width="0.2" stroke-linejoin="round"><tspan x="-628.90" dy="0" textLength="9.40" lengthAdjust="spacingAndGlyphs">4</tspan><tspan x="-620.10" dy="3.5" font-size="24.4" font-weight="normal" stroke="#275419" stroke-width="0.1" textLength="8.33" lengthAdjust="spacingAndGlyphs">/</tspan><tspan x="-611.75" dy="-3.5" textLength="9.40" lengthAdjust="spacingAndGlyphs">1</tspan><tspan x="-602.40" dy="3.5" font-size="24.4" font-weight="normal" stroke="#275419" stroke-width="0.1" textLength="8.63" lengthAdjust="spacingAndGlyphs">/</tspan><tspan x="-594.10" dy="-3.5" textLength="37.60" lengthAdjust="spacingAndGlyphs">2021</tspan></text>
<text transform="rotate(-90)" y="1381.88" font-size="17.2" stroke="#fff" stroke-width="0.2" stroke-linejoin="round"><tspan x="-628.90" dy="0" textLength="9.40" lengthAdjust="spacingAndGlyphs">9</tspan><tspan x="-620.10" dy="3.5" font-size="24.4" font-weight="normal" stroke="#275419" stroke-width="0.1" textLength="8.33" lengthAdjust="spacingAndGlyphs">/</tspan><tspan x="-611.75" dy="-3.5" textLength="9.40" lengthAdjust="spacingAndGlyphs">1</tspan><tspan x="-602.40" dy="3.5" font-size="24.4" font-weight="normal" stroke="#275419" stroke-width="0.1" textLength="8.63" lengthAdjust="spacingAndGlyphs">/</tspan><tspan x="-594.10" dy="-3.5" textLength="37.60" lengthAdjust="spacingAndGlyphs">2021</tspan></text>
<text transform="rotate(-90)" y="1410.05" font-size="17.2" stroke="#fff" stroke-width="0.2" stroke-linejoin="round"><tspan x="-628.90" dy="0" textLength="9.40" lengthAdjust="spacingAndGlyphs">2</tspan><tspan x="-620.10" dy="3.5" font-size="24.4" font-weight="normal" stroke="#275419" stroke-width="0.1" textLength="8.33" lengthAdjust="spacingAndGlyphs">/</tspan><tspan x="-611.75" dy="-3.5" textLength="9.40" lengthAdjust="spacingAndGlyphs">1</tspan><tspan x="-602.40" dy="3.5" font-size="24.4" font-weight="normal" stroke="#275419" stroke-width="0.1" textLength="8.63" lengthAdjust="spacingAndGlyphs">/</tspan><tspan x="-594.10" dy="-3.5" textLength="37.60" lengthAdjust="spacingAndGlyphs">2022</tspan></text>
<text transform="rotate(-90)" y="1438.22" font-size="17.2" stroke="#fff" stroke-width="0.2" stroke-linejoin="round"><tspan x="-628.90" dy="0" textLength="9.40" lengthAdjust="spacingAndGlyphs">7</tspan><tspan x="-620.10" dy="3.5" font-size="24.4" font-weight="normal" stroke="#275419" stroke-width="0.1" textLength="8.33" lengthAdjust="spacingAndGlyphs">/</tspan><tspan x="-611.75" dy="-3.5" textLength="9.40" lengthAdjust="spacingAndGlyphs">1</tspan><tspan x="-602.40" dy="3.5" font-size="24.4" font-weight="normal" stroke="#275419" stroke-width="0.1" textLength="8.63" lengthAdjust="spacingAndGlyphs">/</tspan><tspan x="-594.10" dy="-3.5" textLength="37.60" lengthAdjust="spacingAndGlyphs">2022</tspan></text>
<text transform="rotate(-90)" y="1466.38" font-size="17.2" stroke="#fff" stroke-width="0.2" stroke-linejoin="round"><tspan x="-638.30" dy="0" textLength="18.80" lengthAdjust="spacingAndGlyphs">12</tspan><tspan x="-620.10" dy="3.5" font-size="24.4" font-weight="normal" stroke="#275419" stroke-width="0.1" textLength="8.33" lengthAdjust="spacingAndGlyphs">/</tspan><tspan x="-611.75" dy="-3.5" textLength="9.40" lengthAdjust="spacingAndGlyphs">1</tspan><tspan x="-602.40" dy="3.5" font-size="24.4" font-weight="normal" stroke="#275419" stroke-width="0.1" textLength="8.63" lengthAdjust="spacingAndGlyphs">/</tspan><tspan x="-594.10" dy="-3.5" textLength="37.60" lengthAdjust="spacingAndGlyphs">2022</tspan></text>
<text transform="rotate(-90)" y="1494.55" font-size="17.2" stroke="#fff" stroke-width="0.2" stroke-linejoin="round"><tspan x="-628.90" dy="0" textLength="9.40" lengthAdjust="spacingAndGlyphs">5</tspan><tspan x="-620.10" dy="3.5" font-size="24.4" font-weight="normal" stroke="#275419" stroke-width="0.1" textLength="8.33" lengthAdjust="spacingAndGlyphs">/</tspan><tspan x="-611.75" dy="-3.5" textLength="9.40" lengthAdjust="spacingAndGlyphs">1</tspan><tspan x="-602.40" dy="3.5" font-size="24.4" font-weight="normal" stroke="#275419" stroke-width="0.1" textLength="8.63" lengthAdjust="spacingAndGlyphs">/</tspan><tspan x="-594.10" dy="-3.5" textLength="37.60" lengthAdjust="spacingAndGlyphs">2023</tspan></text>
<text transform="rotate(-90)" y="1522.72" font-size="17.2" stroke="#fff" stroke-width="0.2" stroke-linejoin="round"><tspan x="-638.30" dy="0" textLength="18.80" lengthAdjust="spacingAndGlyphs">10</tspan><tspan x="-620.10" dy="3.5" font-size="24.4" font-weight="normal" stroke="#275419" stroke-width="0.1" textLength="8.33" lengthAdjust="spacingAndGlyphs">/</tspan><tspan x="-611.75" dy="-3.5" textLength="9.40" lengthAdjust="spacingAndGlyphs">1</tspan><tspan x="-602.40" dy="3.5" font-size="24.4" font-weight="normal" stroke="#275419" stroke-width="0.1" textLength="8.63" lengthAdjust="spacingAndGlyphs">/</tspan><tspan x="-594.10" dy="-3.5" textLength="37.60" lengthAdjust="spacingAndGlyphs">2023</tspan></text>
<text transform="rotate(-90)" y="1550.88" font-size="17.2" stroke="#fff" stroke-width="0.2" stroke-linejoin="round"><tspan x="-628.90" dy="0" textLength="9.40" lengthAdjust="spacingAndGlyphs">3</tspan><tspan x="-620.10" dy="3.5" font-size="24.4" font-weight="normal" stroke="#275419" stroke-width="0.1" textLength="8.33" lengthAdjust="spacingAndGlyphs">/</tspan><tspan x="-611.75" dy="-3.5" textLength="9.40" lengthAdjust="spacingAndGlyphs">1</tspan><tspan x="-602.40" dy="3.5" font-size="24.4" font-weight="normal" stroke="#275419" stroke-width="0.1" textLength="8.63" lengthAdjust="spacingAndGlyphs">/</tspan><tspan x="-594.10" dy="-3.5" textLength="37.60" lengthAdjust="spacingAndGlyphs">2024</tspan></text>
<text transform="rotate(-90)" y="1579.05" font-size="17.2" stroke="#fff" stroke-width="0.2" stroke-linejoin="round"><tspan x="-628.90" dy="0" textLength="9.40" lengthAdjust="spacingAndGlyphs">8</tspan><tspan x="-620.10" dy="3.5" font-size="24.4" font-weight="normal" stroke="#275419" stroke-width="0.1" textLength="8.33" lengthAdjust="spacingAndGlyphs">/</tspan><tspan x="-611.75" dy="-3.5" textLength="9.40" lengthAdjust="spacingAndGlyphs">1</tspan><tspan x="-602.40" dy="3.5" font-size="24.4" font-weight="normal" stroke="#275419" stroke-width="0.1" textLength="8.63" lengthAdjust="spacingAndGlyphs">/</tspan><tspan x="-594.10" dy="-3.5" textLength="37.60" lengthAdjust="spacingAndGlyphs">2024</tspan></text>
</g>
<text y="593.65" font-size="16.8" font-style="italic" stroke="#fff" stroke-width="0.3" stroke-linejoin="round"><tspan x="44.40" textLength="57.60" lengthAdjust="spacingAndGlyphs">Source:</tspan></text>
<text y="616.85" font-size="16.8" font-style="italic" stroke="#fff" stroke-width="0.3" stroke-linejoin="round"><tspan x="44.91" textLength="49.11" lengthAdjust="spacingAndGlyphs">Ember</tspan></text>
</svg>
</body>
</html>
